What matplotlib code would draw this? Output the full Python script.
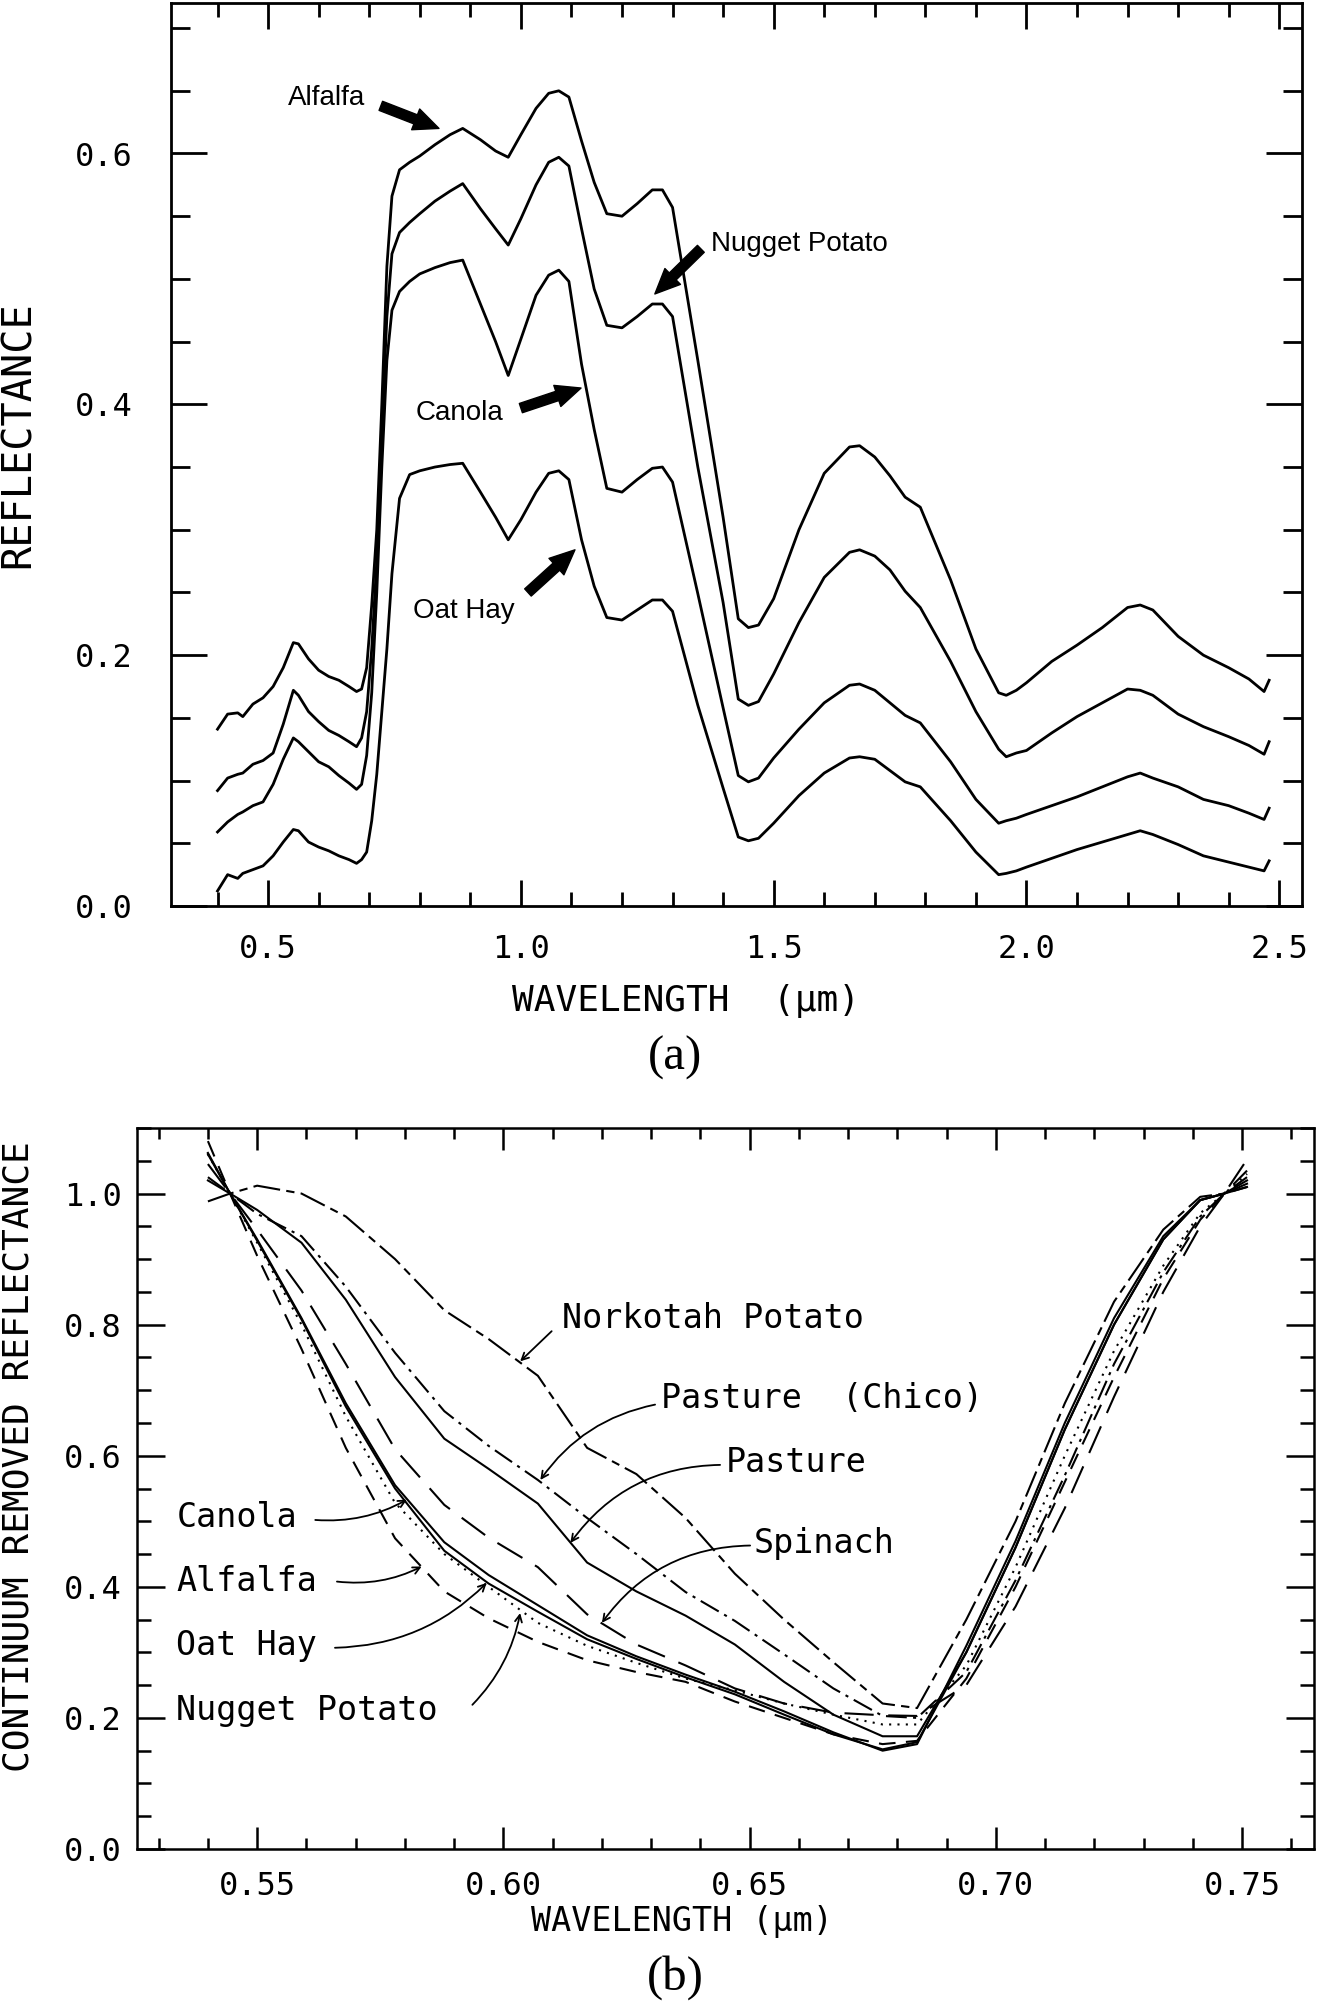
import matplotlib
matplotlib.use("Agg")
import matplotlib.pyplot as plt
from matplotlib.ticker import MultipleLocator, FormatStrFormatter

plt.rcParams['font.family'] = ['DejaVu Sans Mono', 'DejaVu Sans']

# ---------------- Panel (a): reflectance spectra ----------------
wl_a = [0.40, 0.42, 0.44, 0.45, 0.47, 0.49, 0.51, 0.53, 0.55, 0.56, 0.58, 0.60,
        0.62, 0.64, 0.66, 0.675, 0.685, 0.695, 0.705, 0.715, 0.725, 0.735, 0.745,
        0.76, 0.78, 0.80, 0.83, 0.86, 0.885, 0.92, 0.95, 0.975, 1.00, 1.03, 1.055,
        1.075, 1.095, 1.12, 1.145, 1.17, 1.20, 1.23, 1.26, 1.28, 1.30, 1.35, 1.40,
        1.43, 1.45, 1.47, 1.50, 1.55, 1.60, 1.65, 1.67, 1.70, 1.73, 1.76, 1.79,
        1.85, 1.90, 1.945, 1.96, 1.98, 2.00, 2.05, 2.10, 2.15, 2.20, 2.225, 2.25,
        2.30, 2.35, 2.40, 2.44, 2.47, 2.48]

alfalfa = [0.141, 0.153, 0.154, 0.151, 0.161, 0.166, 0.175, 0.190, 0.210, 0.209,
           0.197, 0.188, 0.183, 0.180, 0.175, 0.171, 0.173, 0.190, 0.240, 0.300,
           0.400, 0.510, 0.566, 0.587, 0.593, 0.598, 0.607, 0.615, 0.620, 0.611,
           0.602, 0.597, 0.615, 0.636, 0.648, 0.650, 0.645, 0.610, 0.577, 0.552,
           0.550, 0.560, 0.571, 0.571, 0.557, 0.435, 0.310, 0.229, 0.222, 0.224,
           0.245, 0.300, 0.345, 0.366, 0.367, 0.358, 0.343, 0.326, 0.318, 0.260,
           0.205, 0.170, 0.168, 0.172, 0.178, 0.195, 0.208, 0.222, 0.238, 0.240,
           0.236, 0.215, 0.200, 0.190, 0.181, 0.171, 0.180]

nugget_potato = [0.092, 0.102, 0.105, 0.106, 0.113, 0.116, 0.122, 0.145, 0.172,
                 0.168, 0.155, 0.147, 0.140, 0.136, 0.131, 0.127, 0.134, 0.155,
                 0.205, 0.275, 0.380, 0.470, 0.520, 0.537, 0.545, 0.552, 0.562,
                 0.570, 0.576, 0.556, 0.540, 0.527, 0.548, 0.575, 0.593, 0.597,
                 0.590, 0.540, 0.492, 0.463, 0.461, 0.470, 0.480, 0.480, 0.470,
                 0.350, 0.242, 0.165, 0.160, 0.163, 0.185, 0.226, 0.262, 0.282,
                 0.284, 0.279, 0.268, 0.251, 0.238, 0.195, 0.155, 0.125, 0.119,
                 0.122, 0.124, 0.138, 0.151, 0.162, 0.173, 0.172, 0.168, 0.153,
                 0.143, 0.135, 0.128, 0.121, 0.131]

canola = [0.059, 0.067, 0.073, 0.075, 0.080, 0.083, 0.097, 0.117, 0.134, 0.131,
          0.123, 0.115, 0.111, 0.104, 0.098, 0.093, 0.097, 0.120, 0.170, 0.250,
          0.350, 0.435, 0.475, 0.490, 0.498, 0.504, 0.509, 0.513, 0.515, 0.480,
          0.450, 0.423, 0.452, 0.487, 0.503, 0.507, 0.498, 0.432, 0.380, 0.333,
          0.330, 0.340, 0.349, 0.350, 0.338, 0.249, 0.158, 0.104, 0.099, 0.102,
          0.118, 0.141, 0.162, 0.176, 0.177, 0.172, 0.162, 0.152, 0.146, 0.115,
          0.085, 0.066, 0.068, 0.070, 0.073, 0.080, 0.087, 0.095, 0.103, 0.106,
          0.102, 0.095, 0.085, 0.080, 0.074, 0.069, 0.078]

oat_hay = [0.012, 0.025, 0.022, 0.026, 0.029, 0.032, 0.040, 0.051, 0.061, 0.060,
           0.051, 0.047, 0.044, 0.040, 0.037, 0.034, 0.037, 0.043, 0.068, 0.105,
           0.155, 0.205, 0.265, 0.325, 0.344, 0.347, 0.350, 0.352, 0.353, 0.330,
           0.310, 0.292, 0.308, 0.330, 0.345, 0.347, 0.340, 0.292, 0.255, 0.230,
           0.228, 0.236, 0.244, 0.244, 0.235, 0.160, 0.094, 0.055, 0.052, 0.054,
           0.066, 0.088, 0.106, 0.118, 0.119, 0.117, 0.108, 0.099, 0.095, 0.068,
           0.043, 0.025, 0.026, 0.028, 0.031, 0.038, 0.045, 0.051, 0.057, 0.060,
           0.057, 0.049, 0.040, 0.035, 0.031, 0.028, 0.036]

# ---------------- Panel (b): continuum removed ----------------
wl_b = [0.540, 0.5445, 0.550, 0.559, 0.568, 0.578, 0.588, 0.597, 0.607, 0.617,
        0.627, 0.637, 0.647, 0.657, 0.667, 0.677, 0.684, 0.694, 0.704, 0.714,
        0.724, 0.734, 0.7415, 0.7464, 0.751]

norkotah_b = [0.988, 1.000, 1.012, 1.000, 0.965, 0.900, 0.822, 0.778, 0.722, 0.612,
              0.572, 0.505, 0.420, 0.350, 0.285, 0.222, 0.215, 0.350, 0.500, 0.680,
              0.835, 0.945, 0.995, 1.000, 1.052]
pasture_chico_b = [1.025, 1.000, 0.969, 0.935, 0.858, 0.757, 0.668, 0.615, 0.563,
                   0.505, 0.450, 0.392, 0.348, 0.297, 0.245, 0.203, 0.200, 0.270,
                   0.410, 0.570, 0.740, 0.880, 0.965, 1.000, 1.025]
pasture_b = [1.020, 1.000, 0.975, 0.925, 0.838, 0.720, 0.626, 0.580, 0.527, 0.437,
             0.393, 0.356, 0.312, 0.255, 0.205, 0.172, 0.172, 0.300, 0.460, 0.640,
             0.800, 0.930, 0.990, 1.000, 1.015]
spinach_b = [1.045, 1.000, 0.945, 0.852, 0.740, 0.610, 0.525, 0.475, 0.430, 0.358,
             0.312, 0.280, 0.245, 0.222, 0.208, 0.204, 0.203, 0.250, 0.370, 0.520,
             0.690, 0.850, 0.950, 1.000, 1.035]
canola_b = [1.062, 1.000, 0.930, 0.810, 0.680, 0.555, 0.468, 0.418, 0.372, 0.326,
            0.294, 0.266, 0.240, 0.210, 0.178, 0.150, 0.160, 0.310, 0.470, 0.650,
            0.810, 0.935, 0.990, 1.000, 1.020]
oat_hay_b = [1.060, 1.000, 0.928, 0.808, 0.675, 0.550, 0.455, 0.405, 0.362, 0.320,
             0.290, 0.262, 0.236, 0.205, 0.175, 0.152, 0.163, 0.300, 0.460, 0.640,
             0.800, 0.930, 0.990, 1.000, 1.010]
nugget_b = [1.060, 1.000, 0.925, 0.800, 0.660, 0.528, 0.450, 0.400, 0.345, 0.310,
            0.284, 0.260, 0.242, 0.222, 0.205, 0.190, 0.190, 0.280, 0.430, 0.600,
            0.760, 0.890, 0.970, 1.000, 1.030]
alfalfa_b = [1.080, 1.000, 0.905, 0.763, 0.612, 0.474, 0.393, 0.352, 0.316, 0.288,
             0.270, 0.255, 0.225, 0.200, 0.175, 0.160, 0.165, 0.260, 0.400, 0.560,
             0.720, 0.870, 0.960, 1.000, 1.010]

# ---------------- Figure ----------------
W, H = 1320, 2004
fig = plt.figure(figsize=(W / 100, H / 100), dpi=100)


def px_axes(left, top, right, bottom):
    return [left / W, 1 - bottom / H, (right - left) / W, (bottom - top) / H]


# ----- panel (a) -----
ax1 = fig.add_axes(px_axes(170.5, 3, 1302, 906))
for series in (alfalfa, nugget_potato, canola, oat_hay):
    ax1.plot(wl_a, series, color='black', lw=2.0, solid_joinstyle='round')
ax1.set_xlim(0.307, 2.545)
ax1.set_ylim(0, 0.72)
ax1.xaxis.set_major_locator(MultipleLocator(0.5))
ax1.xaxis.set_minor_locator(MultipleLocator(0.1))
ax1.yaxis.set_major_locator(MultipleLocator(0.2))
ax1.yaxis.set_minor_locator(MultipleLocator(0.05))
ax1.xaxis.set_major_formatter(FormatStrFormatter('%.1f'))
ax1.yaxis.set_major_formatter(FormatStrFormatter('%.1f'))
for s in ax1.spines.values():
    s.set_linewidth(2.0)
ax1.tick_params(which='both', direction='in', top=True, right=True, width=2.0)
ax1.tick_params(axis='x', which='major', length=19, pad=20, labelsize=23)
ax1.tick_params(axis='x', which='minor', length=10)
ax1.tick_params(axis='y', which='major', length=26, pad=27, labelsize=23)
ax1.tick_params(axis='y', which='minor', length=14)

arrow_a = dict(arrowstyle='simple,head_length=0.9,head_width=0.8,tail_width=0.35',
               color='black', shrinkA=0, shrinkB=0, mutation_scale=20)
lab_font = dict(family='Liberation Sans', size=20)
ax1.text(0.615, 0.644, 'Alfalfa', ha='center', va='center', **lab_font)
ax1.annotate('', xy=(0.838, 0.620), xytext=(0.723, 0.638), arrowprops=arrow_a)
ax1.text(1.376, 0.528, 'Nugget Potato', ha='left', va='center', **lab_font)
ax1.annotate('', xy=(1.265, 0.488), xytext=(1.356, 0.524), arrowprops=arrow_a)
ax1.text(0.878, 0.393, 'Canola', ha='center', va='center', **lab_font)
ax1.annotate('', xy=(1.119, 0.413), xytext=(1.000, 0.397), arrowprops=arrow_a)
ax1.text(0.888, 0.235, 'Oat Hay', ha='center', va='center', **lab_font)
ax1.annotate('', xy=(1.107, 0.284), xytext=(1.014, 0.250), arrowprops=arrow_a)

fig.text(19 / W, 1 - 435 / H, 'REFLECTANCE', rotation=90, ha='center', va='center',
         fontsize=29)
fig.text(686 / W, 1 - 1001 / H, 'WAVELENGTH  (\u00b5m)', ha='center', va='center',
         fontsize=26)
fig.text(675 / W, 1 - 1058 / H, '(a)', ha='center', va='center',
         family='Liberation Serif', fontsize=35)

# ----- panel (b) -----
ax2 = fig.add_axes(px_axes(137, 1128, 1314, 1849))
styles_b = [
    (norkotah_b, (0, (13, 3, 4, 3))),
    (pasture_chico_b, (0, (10, 3, 1.5, 3))),
    (pasture_b, '-'),
    (spinach_b, (0, (14, 7))),
    (canola_b, '-'),
    (oat_hay_b, '-'),
    (nugget_b, (0, (1, 3))),
    (alfalfa_b, (0, (8, 5))),
]
for series, ls in styles_b:
    ax2.plot(wl_b, series, color='black', lw=1.5, linestyle=ls)
ax2.set_xlim(0.5256, 0.7646)
ax2.set_ylim(0, 1.10)
ax2.xaxis.set_major_locator(MultipleLocator(0.05))
ax2.xaxis.set_minor_locator(MultipleLocator(0.01))
ax2.yaxis.set_major_locator(MultipleLocator(0.2))
ax2.yaxis.set_minor_locator(MultipleLocator(0.05))
ax2.xaxis.set_major_formatter(FormatStrFormatter('%.2f'))
ax2.yaxis.set_major_formatter(FormatStrFormatter('%.1f'))
for s in ax2.spines.values():
    s.set_linewidth(1.8)
ax2.tick_params(which='both', direction='in', top=True, right=True, width=1.8)
ax2.tick_params(axis='x', which='major', length=16, pad=16, labelsize=23)
ax2.tick_params(axis='x', which='minor', length=8)
ax2.tick_params(axis='y', which='major', length=20, pad=11, labelsize=23)
ax2.tick_params(axis='y', which='minor', length=10)

bfont = dict(size=24)


def callout(text, text_xy, start, tip, rad):
    ax2.text(text_xy[0], text_xy[1], text, ha='left', va='center', **bfont)
    ax2.annotate('', xy=tip, xytext=start,
                 arrowprops=dict(arrowstyle='->,head_length=0.5,head_width=0.25',
                                 lw=1.3, color='black', shrinkA=0, shrinkB=0,
                                 connectionstyle='arc3,rad=%s' % rad))


callout('Norkotah Potato', (0.6119, 0.809), (0.6098, 0.790), (0.6034, 0.744), 0.0)
callout('Pasture  (Chico)', (0.6320, 0.687), (0.6308, 0.678), (0.6075, 0.563), 0.2)
callout('Pasture', (0.6452, 0.589), (0.6440, 0.586), (0.6136, 0.467), 0.25)
callout('Spinach', (0.6509, 0.466), (0.6501, 0.463), (0.6200, 0.345), 0.25)
callout('Canola', (0.5336, 0.505), (0.5618, 0.502), (0.5804, 0.533), 0.15)
callout('Alfalfa', (0.5336, 0.408), (0.5662, 0.408), (0.5834, 0.431), 0.15)
callout('Oat Hay', (0.5336, 0.310), (0.5658, 0.307), (0.5966, 0.406), 0.2)
callout('Nugget Potato', (0.5336, 0.212), (0.5937, 0.220), (0.6034, 0.360), 0.15)

fig.text(19 / W, 1 - 1457 / H, 'CONTINUUM REMOVED REFLECTANCE', rotation=90,
         ha='center', va='center', fontsize=26)
fig.text(682 / W, 1 - 1921 / H, 'WAVELENGTH (\u00b5m)', ha='center', va='center',
         fontsize=24)
fig.text(675 / W, 1 - 1978 / H, '(b)', ha='center', va='center',
         family='Liberation Serif', fontsize=35)

fig.savefig('out.png', dpi=100, facecolor='white')
